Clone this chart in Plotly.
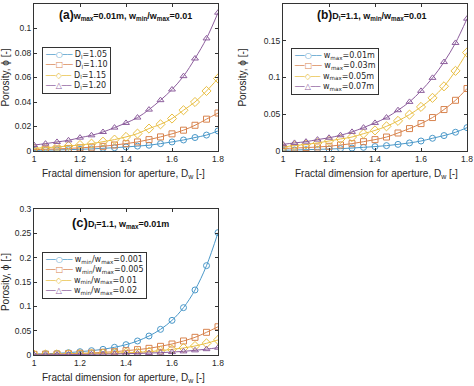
import plotly.graph_objects as go

dw = [1.0, 1.05, 1.1, 1.15, 1.2, 1.25, 1.3, 1.35, 1.4, 1.45, 1.5, 1.55, 1.6, 1.65, 1.7, 1.75, 1.8]

# Panel (a): varying Dl
a_names = ["D<sub>l</sub>=1.05", "D<sub>l</sub>=1.10", "D<sub>l</sub>=1.15", "D<sub>l</sub>=1.20"]
a_d105 = [0.0005, 0.0007, 0.0009, 0.0011, 0.0014, 0.0017, 0.0022, 0.0027, 0.0033, 0.0040, 0.0047, 0.0060, 0.0074, 0.0090, 0.0110, 0.0130, 0.0164]
a_d110 = [0.0011, 0.0014, 0.0017, 0.0021, 0.0026, 0.0031, 0.0038, 0.0049, 0.0060, 0.0074, 0.0093, 0.0115, 0.0140, 0.0170, 0.0210, 0.0260, 0.0310]
a_d115 = [0.0022, 0.0027, 0.0033, 0.0041, 0.0049, 0.0060, 0.0076, 0.0093, 0.0115, 0.0142, 0.0183, 0.0218, 0.0265, 0.0333, 0.0400, 0.0490, 0.0592]
a_d120 = [0.0049, 0.0060, 0.0074, 0.0087, 0.0109, 0.0128, 0.0155, 0.0191, 0.0229, 0.0273, 0.0338, 0.0415, 0.0502, 0.0611, 0.0755, 0.0919, 0.1129]

# Panel (b): varying wmax
b_names = ["w<sub>max</sub>=0.01m", "w<sub>max</sub>=0.03m", "w<sub>max</sub>=0.05m", "w<sub>max</sub>=0.07m"]
b_w001 = [0.0011, 0.0014, 0.0018, 0.0022, 0.0027, 0.0032, 0.0040, 0.0050, 0.0060, 0.0073, 0.0090, 0.0110, 0.0136, 0.0173, 0.0210, 0.0255, 0.0318]
b_w003 = [0.0033, 0.0040, 0.0046, 0.0055, 0.0064, 0.0082, 0.0100, 0.0127, 0.0155, 0.0190, 0.0245, 0.0305, 0.0373, 0.0455, 0.0564, 0.0690, 0.0850]
b_w005 = [0.0055, 0.0073, 0.0090, 0.0110, 0.0136, 0.0164, 0.0190, 0.0236, 0.0280, 0.0336, 0.0410, 0.0495, 0.0600, 0.0723, 0.0880, 0.1090, 0.1340]
b_w007 = [0.0090, 0.0110, 0.0127, 0.0155, 0.0180, 0.0214, 0.0260, 0.0318, 0.0382, 0.0455, 0.0555, 0.0668, 0.0818, 0.0995, 0.1210, 0.1470, 0.1800]

# Panel (c): varying wmin/wmax
c_names = ["w<sub>min</sub>/w<sub>max</sub>=0.001", "w<sub>min</sub>/w<sub>max</sub>=0.005",
           "w<sub>min</sub>/w<sub>max</sub>=0.01", "w<sub>min</sub>/w<sub>max</sub>=0.02"]
c_r0001 = [0.0020, 0.0027, 0.0034, 0.0048, 0.0068, 0.0089, 0.0116, 0.0158, 0.0212, 0.0288, 0.0390, 0.0527, 0.0712, 0.0973, 0.1336, 0.1836, 0.2514]
c_r0005 = [0.0014, 0.0018, 0.0020, 0.0027, 0.0034, 0.0041, 0.0055, 0.0068, 0.0089, 0.0110, 0.0137, 0.0178, 0.0226, 0.0288, 0.0363, 0.0466, 0.0580]
c_r001 = [0.0009, 0.0011, 0.0014, 0.0017, 0.0020, 0.0025, 0.0031, 0.0038, 0.0046, 0.0055, 0.0068, 0.0089, 0.0116, 0.0144, 0.0185, 0.0240, 0.0310]
c_r002 = [0.0005, 0.0006, 0.0007, 0.0009, 0.0011, 0.0014, 0.0017, 0.0021, 0.0026, 0.0032, 0.0040, 0.0048, 0.0060, 0.0075, 0.0096, 0.0120, 0.0150]

x_title = "Fractal dimension for aperture, D<sub>w</sub> [-]"
y_title = "Porosity, ϕ [-]"

colors = ["#4a98c9", "#d8844f", "#e9bf45", "#8d5e9d"]
symbols = ["circle-open", "square-open", "diamond-open", "triangle-up-open"]
legend_glyphs = ["○", "□", "◇", "△"]

FONT = "Liberation Sans, Arial, sans-serif"
TXT = "#262626"

fig = go.Figure()

panels = [
    ("x", "y", [a_d105, a_d110, a_d115, a_d120], a_names),
    ("x2", "y2", [b_w001, b_w003, b_w005, b_w007], b_names),
    ("x3", "y3", [c_r0001, c_r0005, c_r001, c_r002], c_names),
]
for xa, ya, series, names in panels:
    for i, (vals, nm) in enumerate(zip(series, names)):
        fig.add_trace(go.Scatter(
            x=dw, y=vals, xaxis=xa, yaxis=ya, name=nm, showlegend=False,
            mode="lines+markers", line=dict(color=colors[i], width=1, shape="spline"),
            marker=dict(symbol=symbols[i], size=6 if i != 2 else 7, color=colors[i],
                        line=dict(width=1, color=colors[i])),
        ))

axcommon = dict(showgrid=False, zeroline=False, showline=True, mirror="ticks", linecolor="#333333",
                linewidth=1, ticks="inside", ticklen=3, tickcolor="#333333", automargin=False,
                tickfont=dict(family=FONT, size=8.5, color=TXT))

xt = dict(range=[1, 1.8], tickvals=[1, 1.2, 1.4, 1.6, 1.8], ticktext=["1", "1.2", "1.4", "1.6", "1.8"], **axcommon)
yt_title = dict(text=y_title, font=dict(family=FONT, size=10, color=TXT))

dom_x_left = [34/474, 218/474]
dom_x_right = [283/474, 467/474]
dom_y_top = [1 - 151/386, 1 - 4/386]
dom_y_bot = [1 - 355/386, 1 - 209/386]

fig.update_layout(
    width=474, height=386, margin=dict(l=0, r=0, t=0, b=0),
    paper_bgcolor="white", plot_bgcolor="white",
    font=dict(family=FONT), showlegend=False,
    xaxis=dict(domain=dom_x_left, anchor="y", **xt),
    yaxis=dict(domain=dom_y_top, anchor="x", range=[0, 0.12], tickvals=[0, 0.02, 0.04, 0.06, 0.08, 0.1, 0.12],
               ticktext=["0", "0.02", "0.04", "0.06", "0.08", "0.1", "0.12"], title=yt_title, **axcommon),
    xaxis2=dict(domain=dom_x_right, anchor="y2", **xt),
    yaxis2=dict(domain=dom_y_top, anchor="x2", range=[0, 0.2], tickvals=[0, 0.05, 0.1, 0.15, 0.2],
                ticktext=["0", "0.05", "0.1", "0.15", "0.2"], title=yt_title, **axcommon),
    xaxis3=dict(domain=dom_x_left, anchor="y3", **xt),
    yaxis3=dict(domain=dom_y_bot, anchor="x3", range=[0, 0.3], tickvals=[0, 0.05, 0.1, 0.15, 0.2, 0.25, 0.3],
                ticktext=["0", "0.05", "0.1", "0.15", "0.2", "0.25", "0.3"], title=yt_title, **axcommon),
)

# x-axis titles (placed as in the MATLAB original)
for cx, cy in [(123, 174), (376, 174), (123, 378)]:
    fig.add_annotation(xref="paper", yref="paper", x=cx/474, y=1 - cy/386, showarrow=False,
                       text=x_title, font=dict(family=FONT, size=10, color=TXT),
                       xanchor="center", yanchor="middle")

# Compact legend boxes (text legends, MATLAB style)
legend_boxes = [(a_names, 42, 47), (b_names, 291, 48), (c_names, 42, 252)]
for names, lx, ly in legend_boxes:
    lines = []
    for i, nm in enumerate(names):
        lines.append(f"<span style='color:{colors[i]}'>──{legend_glyphs[i]}──</span> {nm}")
    fig.add_annotation(xref="paper", yref="paper", x=lx/474, y=1 - ly/386, showarrow=False,
                       xanchor="left", yanchor="top", align="left",
                       text="<br>".join(lines), bgcolor="white", bordercolor="#333333", borderwidth=1, borderpad=2,
                       font=dict(family="DejaVu Sans, sans-serif", size=8, color=TXT))

ann = [
    ("<b>(a)</b>", "<b>w<sub>max</sub>=0.01m, w<sub>min</sub>/w<sub>max</sub>=0.01</b>", 125, 15, 12),
    ("<b>(b)</b>", "<b>D<sub>l</sub>=1.1, w<sub>min</sub>/w<sub>max</sub>=0.01</b>", 371, 15, 12),
    ("<b>(c)</b>", "<b>D<sub>l</sub>=1.1, w<sub>max</sub>=0.01m</b>", 120, 222, 13),
]
for lab, txt, cx, cy, fs in ann:
    fig.add_annotation(xref="paper", yref="paper", x=cx/474, y=1 - cy/386, showarrow=False,
                       text=f"<span style='font-size:{fs}px'>{lab}</span><span style='font-size:9px'>{txt}</span>",
                       font=dict(family=FONT, color="#111111"), xanchor="center", yanchor="middle")

fig.write_html("out.html", config={"displayModeBar": False},
               post_script="document.body.style.margin='0px';document.body.style.overflow='hidden';")
